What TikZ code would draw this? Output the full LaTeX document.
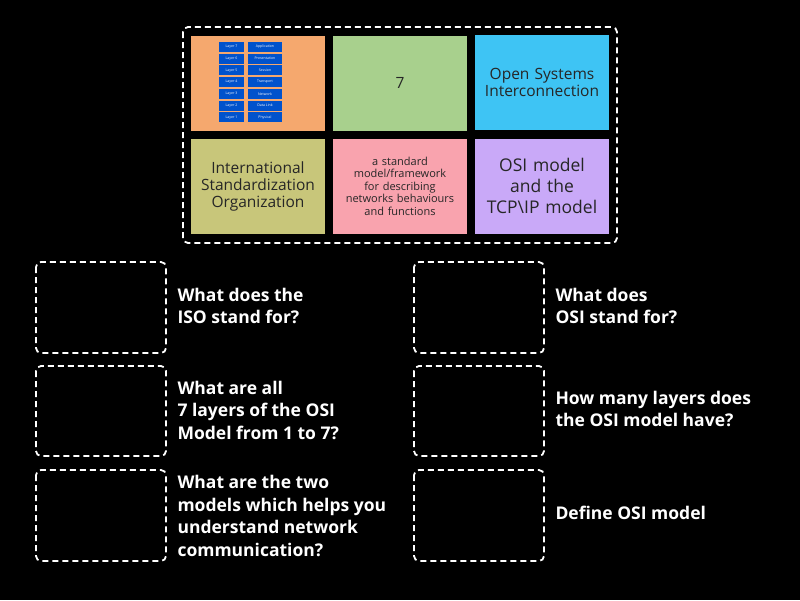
\documentclass[tikz,border=0pt]{standalone}
\usepackage{fontspec}
\setmainfont{Open Sans}
\begin{document}
\begin{tikzpicture}[x=1pt,y=-1pt,
 tile/.style={minimum width=134pt,minimum height=95pt,inner sep=2pt,align=center,text width=128pt,font=\fontsize{15.5}{17}\selectfont,text=black!85},
 slot/.style={draw=white,dashed,line width=1.8pt,rounded corners=5pt,dash pattern=on 6pt off 4pt},
 q/.style={anchor=west,align=left,text=white,font=\bfseries\fontsize{17.5}{22.5}\selectfont},
 lb/.style={fill=blue!60!cyan!80!black,text=white,font=\fontsize{3.5}{4}\selectfont,inner sep=0pt,minimum height=10pt}]
\fill[black] (0,0) rectangle (800,600);
\useasboundingbox (0,0) rectangle (800,600);
\draw[slot] (183,27) rectangle (617,243);
\node[tile,fill={rgb,255:red,245;green,168;blue,110}] (t1) at (258,83) {};
\node[tile,fill={rgb,255:red,168;green,208;blue,141}] (t2) at (400,83) {7};
\node[tile,fill={rgb,255:red,62;green,196;blue,244}] (t3) at (542,82) {Open Systems\\Interconnection};
\node[tile,fill={rgb,255:red,200;green,198;blue,122}] (t4) at (258,186) {International\\Standardization\\Organization};
\node[tile,fill={rgb,255:red,249;green,163;blue,174},font=\fontsize{11}{12.5}\selectfont] (t5) at (400,186) {a standard\\model/framework\\for describing\\networks behaviours\\and functions};
\node[tile,fill={rgb,255:red,201;green,169;blue,248},font=\fontsize{17.5}{21}\selectfont] (t6) at (542,186) {OSI model\\and the\\TCP\textbackslash IP model};
\foreach \i/\n in {1/7,2/6,3/5,4/4,5/3,6/2,7/1}{
 \node[lb,minimum width=25pt] (l\i) at (231.5,{35.3+11.7*\i}) {Layer \n};}
\foreach \i/\n in {1/Application,2/Presentation,3/Session,4/Transport,5/Network,6/Data Link,7/Physical}{
 \node[lb,minimum width=34pt] (r\i) at (265,{35.3+11.7*\i}) {\n};}
\draw[slot] (36,262) rectangle (166,353);
\draw[slot] (36,366) rectangle (166,456);
\draw[slot] (36,470) rectangle (166,561);
\draw[slot] (414,262) rectangle (544,353);
\draw[slot] (414,366) rectangle (544,456);
\draw[slot] (414,470) rectangle (544,561);
\node[q] (q1) at (174,306) {What does the\\ISO stand for?};
\node[q] (q2) at (174,410) {What are all\\7 layers of the OSI\\Model from 1 to 7?};
\node[q] (q3) at (174,516) {What are the two\\models which helps you\\understand network\\communication?};
\node[q] (q4) at (552,306) {What does\\OSI stand for?};
\node[q] (q5) at (552,409) {How many layers does\\the OSI model have?};
\node[q] (q6) at (552,513) {Define OSI model};
\end{tikzpicture}
\end{document}
